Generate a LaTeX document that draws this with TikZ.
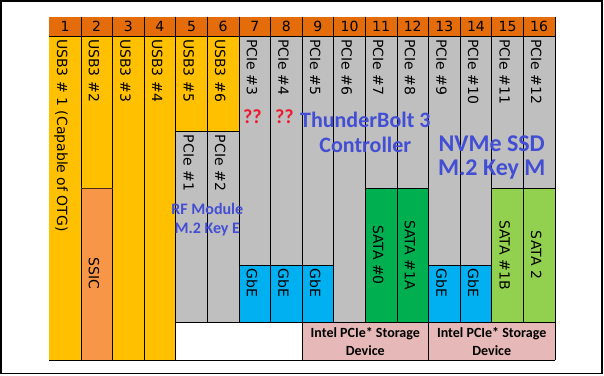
\documentclass[tikz,border=0pt]{standalone}
\usepackage{fontspec}
\setmainfont{DejaVu Sans}
\newfontfamily\calibri{Carlito}
\usetikzlibrary{positioning}

\definecolor{hdorange}{RGB}{228,108,10}
\definecolor{usbyellow}{RGB}{255,192,0}
\definecolor{ssicorange}{RGB}{247,150,70}
\definecolor{pciegray}{RGB}{191,191,191}
\definecolor{gbeblue}{RGB}{0,176,240}
\definecolor{satagreen}{RGB}{0,176,80}
\definecolor{satalime}{RGB}{146,208,80}
\definecolor{storpink}{RGB}{230,184,183}
\definecolor{tagblue}{RGB}{66,78,212}
\definecolor{tagred}{RGB}{236,26,46}

\begin{document}
\begin{tikzpicture}[x=1pt, y=-1pt,
  grid/.style={line width=0.8pt},
  num/.style={font=\fontsize{14}{16}\selectfont, inner sep=0pt},
  lane/.style={font=\fontsize{14}{16}\selectfont, rotate=-90, anchor=base west, inner sep=0pt},
  midlane/.style={lane, anchor=base},
  tag/.style={text=tagblue, align=center, anchor=north, inner sep=0pt},
  qmark/.style={text=tagred, inner sep=0pt, font=\calibri\bfseries\fontsize{20}{22}\selectfont},
  storage/.style={align=center, anchor=north, inner sep=0pt, font=\calibri\bfseries\fontsize{14}{17.7}\selectfont}
]
\useasboundingbox (0,0) rectangle (604,375);
\fill[white] (0,0) rectangle (604,375);
\draw[line width=1.6pt] (0.8,0.8) rectangle (601.8,373.6);

\begin{scope}[xshift=49.3pt, x=31.6pt]
% lane colours
\fill[hdorange] (0,16.7) rectangle (16,36);
\fill[usbyellow] (0,36) rectangle (6,131.7);
\fill[usbyellow] (0,131.7) rectangle (4,360);
\fill[ssicorange] (1,188.3) rectangle (2,360);
\fill[pciegray] (4,131.7) rectangle (6,322);
\fill[pciegray] (6,36) rectangle (16,322);
\fill[gbeblue] (6,265) rectangle (9,322);
\fill[gbeblue] (12,265) rectangle (14,322);
\fill[satagreen] (10,188.3) rectangle (12,322);
\fill[satalime] (14,188.3) rectangle (16,322);
\fill[storpink] (8,322) rectangle (16,360);

% grid lines
\foreach \e in {1,2,3,4,8,12,16}
  \draw[grid] (\e,16.7) -- (\e,360);
\foreach \e in {5,6,7,9,10,11,13,14,15}
  \draw[grid] (\e,16.7) -- (\e,322);
\draw[grid] (0,36) -- (16,36);
\draw[grid] (4,131.7) -- (6,131.7);
\draw[grid, draw=black!70!ssicorange] (1,188.3) -- (2,188.3);
\draw[grid] (10,188.3) -- (12,188.3);
\draw[grid] (14,188.3) -- (16,188.3);
\draw[grid] (6,265) -- (9,265);
\draw[grid] (12,265) -- (14,265);
\draw[grid] (4,322) -- (16,322);
\draw[grid] (0,360) -- (16,360);

\foreach \i in {1,...,16}
  \node[num] (hd\i) at (\i-0.5,26.4) {\i};

\node[lane] (usb1) at (0.25,39) {USB3 \# 1 (Capable of OTG)};
\node[lane] (usb2) at (1.25,39) {USB3 \#2};
\node[lane] (usb3) at (2.25,39) {USB3 \#3};
\node[lane] (usb4) at (3.25,39) {USB3 \#4};
\node[lane] (usb5) at (4.25,39) {USB3 \#5};
\node[lane] (usb6) at (5.25,39) {USB3 \#6};
\node[midlane] (ssic) at (1.25,273.5) {SSIC};
\node[lane] (pcie1) at (4.25,134.7) {PCIe \#1};
\node[lane] (pcie2) at (5.25,134.7) {PCIe \#2};
\node[lane] (pcie3) at (6.25,39) {PCIe \#3};
\node[lane] (pcie4) at (7.25,39) {PCIe \#4};
\node[lane] (pcie5) at (8.25,39) {PCIe \#5};
\node[lane] (pcie6) at (9.25,39) {PCIe \#6};
\node[lane] (pcie7) at (10.25,39) {PCIe \#7};
\node[lane] (pcie8) at (11.25,39) {PCIe \#8};
\node[lane] (pcie9) at (12.25,39) {PCIe \#9};
\node[lane] (pcie10) at (13.25,39) {PCIe \#10};
\node[lane] (pcie11) at (14.25,39) {PCIe \#11};
\node[lane] (pcie12) at (15.25,39) {PCIe \#12};
\node[lane] (gbe7) at (6.25,268.5) {GbE};
\node[lane] (gbe8) at (7.25,268.5) {GbE};
\node[lane] (gbe9) at (8.25,268.5) {GbE};
\node[lane] (gbe13) at (12.25,268.5) {GbE};
\node[lane] (gbe14) at (13.25,268.5) {GbE};
\node[midlane] (sata0) at (10.25,255) {SATA \#0};
\node[midlane] (sata1a) at (11.25,255) {SATA \#1A};
\node[midlane] (sata1b) at (14.25,255) {SATA \#1B};
\node[midlane] (sata2) at (15.25,255) {SATA 2};

\node[storage] (store1) at (10,327.5) {Intel PCIe* Storage\\Device};
\node[storage] (store2) at (14,327.5) {Intel PCIe* Storage\\Device};

% overlay labels
\node[qmark] (q7) at (6.43,117) {??};
\node[qmark] (q8) at (7.44,117) {??};
\node[tag, font=\calibri\bfseries\fontsize{22}{25}\selectfont] (tbolt) at (10,111.5)
  {ThunderBolt 3\\Controller};
\node[tag, font=\calibri\bfseries\fontsize{24}{23.5}\selectfont] (nvme) at (14,136)
  {NVMe SSD\\M.2 Key M};
\node[tag, font=\calibri\bfseries\fontsize{16}{19}\selectfont] (rfmod) at (5,203)
  {RF Module\\M.2 Key E};
\end{scope}
\end{tikzpicture}
\end{document}
